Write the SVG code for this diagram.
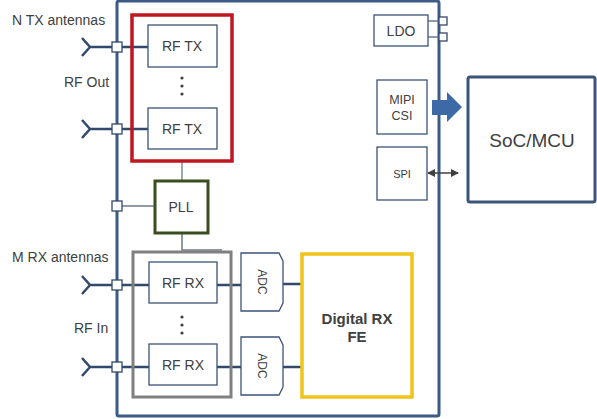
<svg xmlns="http://www.w3.org/2000/svg" width="597" height="419" viewBox="0 0 597 419">
<defs>
<style>
.t{font-family:"Liberation Sans",Arial,sans-serif;fill:#404040;}
.blk{fill:#fff;stroke:#3b5478;stroke-width:1.3;}
.ln{stroke:#33496b;stroke-width:2.5;fill:none;}
.thin{stroke:#6b7a8a;stroke-width:1.3;fill:none;}
.pin{fill:#fff;stroke:#33496b;stroke-width:1.3;}
.ant{stroke:#33496b;stroke-width:2.5;fill:none;}
</style>
<marker id="ah" markerWidth="8" markerHeight="8" refX="7" refY="4" orient="auto-start-reverse" markerUnits="userSpaceOnUse">
<path d="M0,0 L8,4 L0,8 Z" fill="#404040"/>
</marker>
</defs>
<rect width="597" height="419" fill="#fff"/>

<g id="chip">
<rect x="117" y="1" width="322" height="415" rx="2" fill="none" stroke="#3b5a86" stroke-width="3"/>
</g>

<g id="connectors">
<path class="ant" d="M82,38 L90,47 L82,56 M90,47 L148,47"/>
<path class="ant" d="M82,120 L90,129 L82,138 M90,129 L148,129"/>
<path class="ant" d="M82,276 L90,285 L82,294 M90,285 L149,285"/>
<path class="ant" d="M82,358 L90,367 L82,376 M90,367 L149,367"/>
<path class="thin" d="M182,161 L182,181"/>
<path class="thin" d="M117,206 L154,206"/>
<path d="M182,233 L182,250 L222,250" stroke="#6b7a8a" stroke-width="1.5" fill="none"/>
<path class="ln" d="M217,285 L242,285 M283,284 L302,284"/>
<path class="ln" d="M217,367 L242,367 M283,367 L302,367"/>
<path class="thin" d="M428,21 L443,21 M428,37 L443,37"/>
<path d="M432,100 L447,100 L447,92 L462,107 L447,122 L447,115 L432,115 Z" fill="#3d6aa6"/>
<line x1="428" y1="173" x2="458" y2="173" stroke="#404040" stroke-width="1.5" marker-start="url(#ah)" marker-end="url(#ah)"/>
</g>

<g id="pins">
<rect class="pin" x="112" y="42" width="10" height="10"/>
<rect class="pin" x="112" y="124" width="10" height="10"/>
<rect class="pin" x="112" y="201" width="10" height="10"/>
<rect class="pin" x="112" y="280" width="10" height="10"/>
<rect class="pin" x="112" y="362" width="10" height="10"/>
<rect class="pin" x="439" y="17" width="8" height="8"/>
<rect class="pin" x="439" y="33" width="8" height="8"/>
</g>

<g id="tx-group">
<rect x="132" y="15" width="100" height="146" fill="none" stroke="#c0161f" stroke-width="3.5"/>
</g>
<g id="rftx1">
<rect class="blk" x="148" y="25" width="69" height="42"/>
<text class="t" x="182" y="51" font-size="14" text-anchor="middle">RF TX</text>
</g>
<g id="txdots">
<circle cx="182" cy="78" r="1.6" fill="#404040"/>
<circle cx="182" cy="86" r="1.6" fill="#404040"/>
<circle cx="182" cy="94" r="1.6" fill="#404040"/>
</g>
<g id="rftx2">
<rect class="blk" x="148" y="108" width="69" height="41"/>
<text class="t" x="182" y="134" font-size="14" text-anchor="middle">RF TX</text>
</g>

<g id="pll">
<rect x="155" y="181" width="53" height="52" fill="#fff" stroke="#3a4d1e" stroke-width="3"/>
<text class="t" x="181" y="212" font-size="14" text-anchor="middle">PLL</text>
</g>

<g id="rx-group">
<rect x="133" y="252" width="98" height="145" fill="none" stroke="#808080" stroke-width="3"/>
</g>
<g id="rfrx1">
<rect class="blk" x="149" y="262" width="68" height="41"/>
<text class="t" x="183" y="288" font-size="14" text-anchor="middle">RF RX</text>
</g>
<g id="rxdots">
<circle cx="182" cy="317" r="1.6" fill="#404040"/>
<circle cx="182" cy="325" r="1.6" fill="#404040"/>
<circle cx="182" cy="333" r="1.6" fill="#404040"/>
</g>
<g id="rfrx2">
<rect class="blk" x="149" y="344" width="68" height="41"/>
<text class="t" x="183" y="370" font-size="14" text-anchor="middle">RF RX</text>
</g>

<g id="adc1">
<path class="blk" d="M241,253 L279,253 L283,261 L283,303 L279,311 L241,311 Z"/>
<text class="t" font-size="12" text-anchor="middle" transform="translate(258,282) rotate(90)">ADC</text>
</g>
<g id="adc2">
<path class="blk" d="M241,337 L279,337 L283,345 L283,387 L279,395 L241,395 Z"/>
<text class="t" font-size="12" text-anchor="middle" transform="translate(258,366) rotate(90)">ADC</text>
</g>

<g id="dfe">
<rect x="302" y="254" width="110" height="143" fill="#fff" stroke="#f0c419" stroke-width="3.5"/>
<text class="t" x="357" y="324" font-size="15" font-weight="bold" text-anchor="middle" fill="#333">Digital RX</text>
<text class="t" x="357" y="342" font-size="15" font-weight="bold" text-anchor="middle" fill="#333">FE</text>
</g>

<g id="ldo">
<rect class="blk" x="374" y="15" width="54" height="31"/>
<text class="t" x="401" y="36" font-size="14" text-anchor="middle">LDO</text>
</g>
<g id="mipi">
<rect class="blk" x="377" y="80" width="50" height="54"/>
<text class="t" x="402" y="104" font-size="12.5" text-anchor="middle">MIPI</text>
<text class="t" x="402" y="120" font-size="12.5" text-anchor="middle">CSI</text>
</g>
<g id="spi">
<rect class="blk" x="377" y="147" width="50" height="53"/>
<text class="t" x="402" y="178" font-size="11" text-anchor="middle">SPI</text>
</g>

<g id="soc">
<rect x="468" y="77" width="127" height="125" rx="2" fill="#fff" stroke="#3b5478" stroke-width="3"/>
<text class="t" x="532" y="147" font-size="19" text-anchor="middle">SoC/MCU</text>
</g>

<g id="labels">
<text class="t" x="12" y="25" font-size="14">N TX antennas</text>
<text class="t" x="64" y="87" font-size="14">RF Out</text>
<text class="t" x="12" y="262" font-size="14">M RX antennas</text>
<text class="t" x="74" y="333" font-size="14">RF In</text>
</g>
</svg>
